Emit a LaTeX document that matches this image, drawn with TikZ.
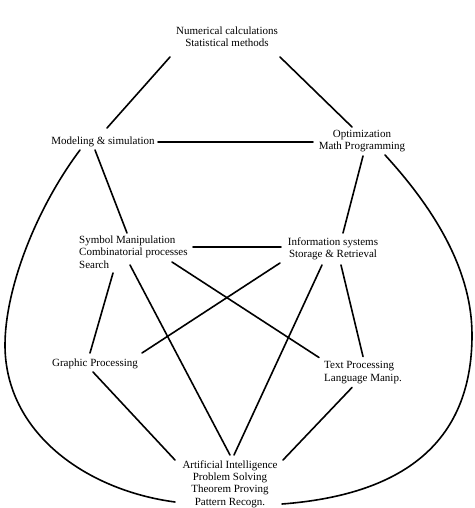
\documentclass[tikz,border=0pt]{standalone}
\usepackage{fontspec}
\setmainfont{Liberation Serif}
\begin{document}
\begin{tikzpicture}[x=1pt,y=-1pt,
  lbl/.style={inner sep=0pt,font=\fontsize{11}{12.4}\selectfont},
  edge/.style={line width=1.6pt,line cap=round}]
\useasboundingbox (0,0) rectangle (474,508);
\node[lbl,align=center] (num) at (227,37) {Numerical calculations\\Statistical methods};
\node[lbl] (mod) at (103,142) {Modeling \& simulation};
\node[lbl,align=center] (opt) at (362,141) {Optimization\\Math Programming};
\node[lbl,align=left,anchor=west] (sym) at (79,252) {Symbol Manipulation\\Combinatorial processes\\Search};
\node[lbl,align=center] (inf) at (333,249) {Information systems\\Storage \& Retrieval};
\node[lbl] (gra) at (95,364) {Graphic Processing};
\node[lbl,align=left,anchor=west] (txt) at (324,372.5) {Text Processing\\Language Manip.};
\node[lbl,align=center] (ai) at (230,484) {Artificial Intelligence\\Problem Solving\\Theorem Proving\\Pattern Recogn.};
% straight connectors
\draw[edge] ([shift={(-57,20)}]num.center) -- ([shift={(4,-14)}]mod.center);
\draw[edge] ([shift={(53,20)}]num.center) -- ([shift={(-10,-14)}]opt.center);
\draw[edge] ([shift={(55,0)}]mod.center) -- ([shift={(-49,1)}]opt.center);
\draw[edge] ([shift={(-8,8)}]mod.center) -- ([shift={(48,-19)}]sym.west);
\draw[edge] ([shift={(1,15)}]opt.center) -- ([shift={(10,-16)}]inf.center);
\draw[edge] ([shift={(114,-5)}]sym.west) -- ([shift={(-52,-2)}]inf.center);
\draw[edge] ([shift={(34,21)}]sym.west) -- ([shift={(-5,-11)}]gra.center);
\draw[edge] ([shift={(51,13)}]sym.west) -- ([shift={(0,-29)}]ai.center);
\draw[edge] ([shift={(93,10)}]sym.west) -- ([shift={(-5,-15)}]txt.west);
\draw[edge] ([shift={(-53,14)}]inf.center) -- ([shift={(47,-11)}]gra.center);
\draw[edge] ([shift={(-11,16)}]inf.center) -- ([shift={(4,-29)}]ai.center);
\draw[edge] ([shift={(8,16)}]inf.center) -- ([shift={(39,-16)}]txt.west);
\draw[edge] ([shift={(-2,8)}]gra.center) -- ([shift={(-55,-24)}]ai.center);
\draw[edge] ([shift={(28,15)}]txt.west) -- ([shift={(53,-24)}]ai.center);
% outer curves
\coordinate (lw) at (5,345);
\coordinate (re) at (472,335);
\draw[edge] ([shift={(-23,8)}]mod.center) .. controls (35,210) and (5,290) .. (lw)
  .. controls (5,432) and (85,490) .. ([shift={(-55,18)}]ai.center);
\draw[edge] ([shift={(23,14)}]opt.center) .. controls (440,215) and (472,275) .. (re)
  .. controls (472,445) and (400,495) .. ([shift={(52,20)}]ai.center);
\end{tikzpicture}
\end{document}
